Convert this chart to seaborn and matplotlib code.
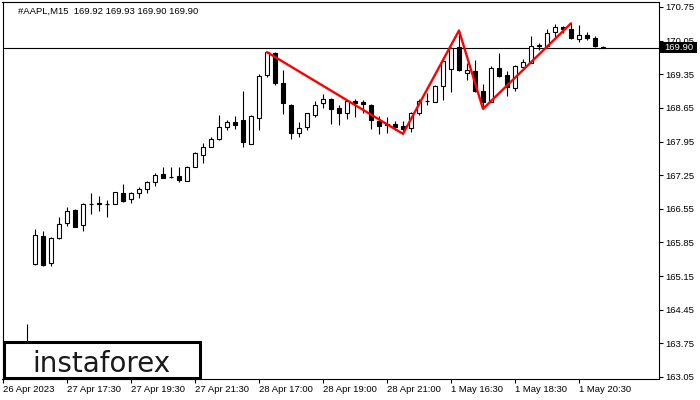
import numpy as np
import pandas as pd
import matplotlib
matplotlib.use("Agg")
import matplotlib.pyplot as plt
from matplotlib.patches import Rectangle
import seaborn as sns

# M15 candles (index 0 is mostly hidden by the logo)
opens = [163.60, 165.40, 165.98, 165.42, 165.95, 166.25, 166.53, 166.21, 166.64, 166.67,
         166.64, 166.66, 166.88, 166.75, 166.87, 166.96, 167.10, 167.27, 167.21, 167.23,
         167.12, 167.43, 167.68, 167.84, 168.00, 168.25, 168.36, 168.39, 167.90, 168.43,
         169.33, 169.79, 169.17, 168.72, 168.12, 168.26, 168.51, 168.75, 168.83, 168.64,
         168.54, 168.79, 168.77, 168.72, 168.38, 168.31, 168.31, 168.27, 168.23, 168.54,
         168.80, 168.78, 169.11, 169.47, 169.91, 169.38, 169.42, 169.01, 168.78, 169.49,
         169.33, 169.07, 169.50, 169.59, 169.93, 169.94, 170.22, 170.33, 170.29, 170.09,
         170.17, 170.10, 169.92]
highs = [164.15, 166.13, 166.09, 165.96, 166.37, 166.59, 166.55, 166.68, 166.88, 166.82,
         166.73, 166.91, 167.07, 166.89, 167.00, 167.13, 167.30, 167.41, 167.41, 167.41,
         167.45, 167.73, 167.91, 168.04, 168.50, 168.40, 168.48, 169.00, 168.50, 169.36,
         169.82, 169.81, 169.44, 168.73, 168.36, 168.55, 168.79, 168.94, 168.85, 168.72,
         168.82, 168.84, 168.81, 168.74, 168.48, 168.47, 168.38, 168.37, 168.56, 168.84,
         168.97, 169.13, 169.65, 169.92, 170.23, 169.58, 169.65, 169.15, 169.52, 169.80,
         169.42, 169.54, 169.67, 170.15, 170.00, 170.29, 170.40, 170.36, 170.41, 170.37,
         170.23, 170.15, 169.93]
lows = [163.20, 165.38, 165.36, 165.35, 165.93, 166.20, 166.18, 166.09, 166.44, 166.51,
        166.37, 166.65, 166.70, 166.68, 166.77, 166.87, 167.03, 167.20, 167.20, 167.11,
        167.12, 167.42, 167.51, 167.83, 167.99, 168.20, 168.22, 167.84, 167.89, 168.20,
        169.30, 169.13, 168.53, 168.00, 168.05, 168.18, 168.47, 168.65, 168.32, 168.29,
        168.42, 168.47, 168.55, 168.22, 168.10, 168.13, 168.18, 168.13, 168.15, 168.50,
        168.72, 168.77, 168.81, 168.99, 169.42, 169.23, 168.99, 168.65, 168.77, 169.29,
        168.90, 169.00, 169.49, 169.58, 169.86, 169.92, 170.13, 170.20, 170.08, 170.03,
        170.06, 169.92, 169.90]
closes = [163.40, 166.00, 165.38, 165.94, 166.23, 166.50, 166.18, 166.66, 166.66, 166.64,
          166.66, 166.89, 166.72, 166.87, 166.97, 167.11, 167.25, 167.20, 167.21, 167.14,
          167.43, 167.71, 167.84, 168.01, 168.25, 168.35, 168.30, 167.95, 168.48, 169.31,
          169.81, 169.17, 168.75, 168.13, 168.24, 168.54, 168.72, 168.83, 168.63, 168.55,
          168.79, 168.75, 168.74, 168.39, 168.28, 168.30, 168.25, 168.22, 168.54, 168.79,
          168.80, 169.11, 169.63, 169.90, 169.44, 169.44, 169.01, 168.78, 169.49, 169.31,
          169.09, 169.52, 169.60, 169.94, 169.95, 170.20, 170.33, 170.29, 170.10, 170.17,
          170.11, 169.94, 169.90]

# red pattern line (candle index, price)
pattern_idx = [30, 47, 54, 57, 68]
pattern_px = [169.81, 168.11, 170.26, 168.63, 170.41]

last_price = 169.90
header = "#AAPL,M15  169.92 169.93 169.90 169.90"

y_ticks = [163.05, 163.75, 164.45, 165.15, 165.85, 166.55, 167.25,
           167.95, 168.65, 169.35, 170.05, 170.75]
x_tick_pos = [-3, 5, 13, 21, 29, 37, 45, 53, 61, 69]
x_tick_labels = ["26 Apr 2023", "27 Apr 17:30", "27 Apr 19:30", "27 Apr 21:30",
                 "28 Apr 17:00", "28 Apr 19:00", "28 Apr 21:00", "1 May 16:30",
                 "1 May 18:30", "1 May 20:30"]

sns.set_theme(style="white")
plt.rcParams['font.family'] = ['Liberation Sans', 'DejaVu Sans']
fs = 6.8

df = pd.DataFrame({"o": opens, "h": highs, "l": lows, "c": closes})
df["x"] = np.arange(len(df))
df["up"] = df.c >= df.o

fig = plt.figure(figsize=(7, 4), dpi=100)
fig.patch.set_facecolor("white")
ax = fig.add_axes([2.5 / 700, 21 / 400, 656.5 / 700, 377 / 400])
ax.set_facecolor("white")

# wicks + bodies
ax.vlines(df.x, df.l, df.h, color="black", lw=0.8, zorder=2)
body_bottom = df[["o", "c"]].min(axis=1)
body_h = (df.c - df.o).abs().clip(lower=0.004)
ax.bar(df.x, body_h, bottom=body_bottom, width=0.55,
       color=np.where(df.up, "white", "black"), edgecolor="black",
       linewidth=0.8, zorder=3)

ax.axhline(last_price, color="black", lw=0.8, zorder=1)
sns.lineplot(x=pattern_idx, y=pattern_px, color="#ff0000", lw=1.7, ax=ax, zorder=4)

ax.set_xlim(-3.06, 79.0)
ax.set_ylim(163.008, 170.854)

for s in ax.spines.values():
    s.set_color("black")
    s.set_linewidth(0.8)

ax.yaxis.tick_right()
ax.set_yticks(y_ticks, [f"{v:.2f}" for v in y_ticks])
ax.set_xticks(x_tick_pos, x_tick_labels)
for lab in ax.get_xticklabels():
    lab.set_ha("left")
ax.tick_params(axis="y", right=True, left=False, labelright=True, labelleft=False,
               direction="out", length=3, width=0.8, pad=1.5, labelsize=fs, colors="black")
ax.tick_params(axis="x", bottom=True, direction="out", length=3, width=0.8, pad=1.5,
               labelsize=fs, colors="black")
ax.set_xlabel("")
ax.set_ylabel("")
ax.grid(False)

# header
fig.text(18 / 700, 1 - 11.5 / 400, header, fontsize=fs, color="black", va="center")

# last price tag
fig.add_artist(Rectangle((660 / 700, (400 - 53.3) / 400), 37 / 700, 11.6 / 400,
                         transform=fig.transFigure, facecolor="black",
                         edgecolor="none", zorder=5))
fig.text(679 / 700, (400 - 47.5) / 400, f"{last_price:.2f}", color="white",
         ha="center", va="center", fontsize=fs, zorder=6)

# logo box
fig.add_artist(Rectangle((4.2 / 700, (400 - 377.5) / 400), 196 / 700, 36 / 400,
                         transform=fig.transFigure, facecolor="white",
                         edgecolor="black", lw=2.2, zorder=5))
fig.text(101 / 700, (400 - 371.7) / 400, "instaforex", family="DejaVu Sans",
         fontsize=20, color="#1a1a1a", ha="center", va="baseline", zorder=6)

fig.savefig("out.png", dpi=100)
